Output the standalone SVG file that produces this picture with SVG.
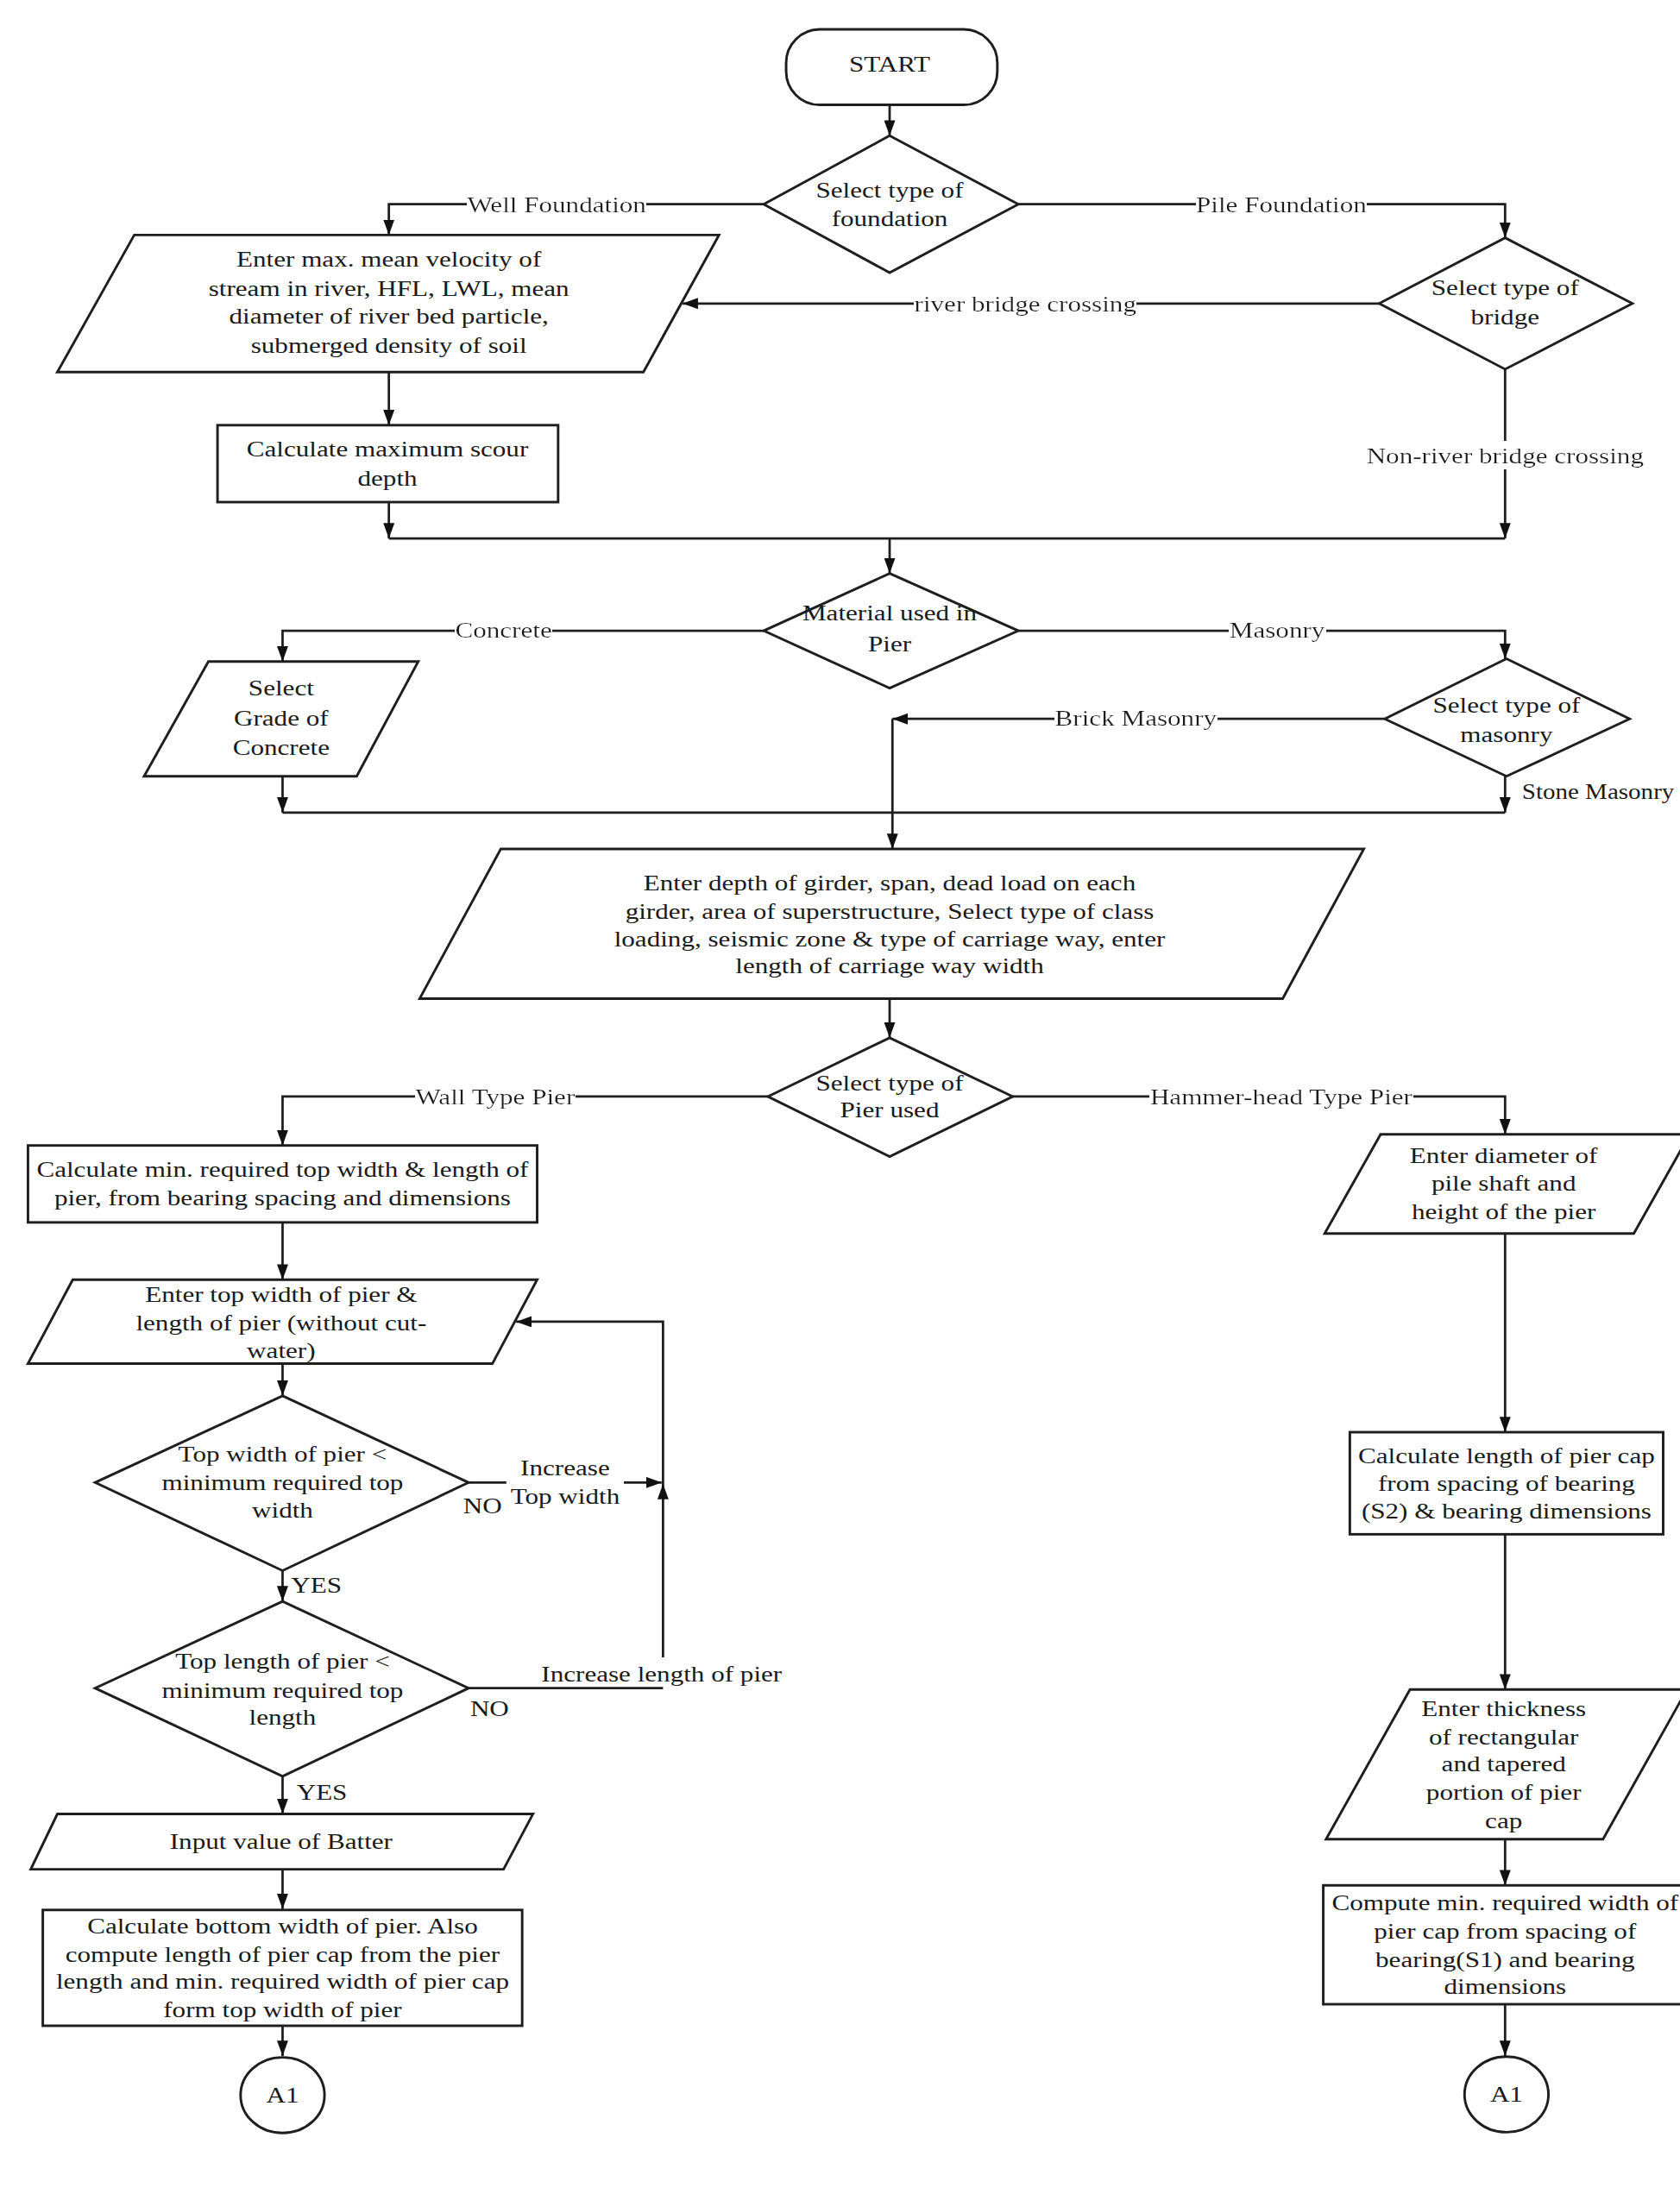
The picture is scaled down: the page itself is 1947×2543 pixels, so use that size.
<svg xmlns="http://www.w3.org/2000/svg" width="1947" height="2543" viewBox="0 0 1947 2543">
<style>
.n{fill:#fff;stroke:#1e1e1e;stroke-width:1.8}
.c{fill:none;stroke:#1e1e1e;stroke-width:1.7}
text{font-family:"Liberation Serif","Times New Roman",serif;font-size:16px;fill:#1a1a1a;text-anchor:middle}
.l{filter:url(#bg)}
.s{text-anchor:start}
</style>
<defs>
<marker id="a" markerUnits="userSpaceOnUse" markerWidth="11" markerHeight="8" viewBox="0 0 11 8" refX="11" refY="4" orient="auto"><path d="M0,0 L11,4 L0,8 z" fill="#111"/></marker>
<filter id="bg" x="0" y="-0.05" width="1" height="1.1"><feFlood flood-color="#fff" result="f"/><feMerge><feMergeNode in="f"/><feMergeNode in="SourceGraphic"/></feMerge></filter>
</defs>
<rect width="1947" height="2543" fill="#fff"/>
<g transform="scale(1.6211)">
<g id="connectors">
<path class="c" d="M636,75 L636,97" marker-end="url(#a)"/>
<path class="c" d="M546,146 L278,146 L278,168" marker-end="url(#a)"/>
<path class="c" d="M728,146 L1076,146 L1076,170" marker-end="url(#a)"/>
<path class="c" d="M986,217 L488,217" marker-end="url(#a)"/>
<path class="c" d="M1076,264 L1076,385" marker-end="url(#a)"/>
<path class="c" d="M278,266 L278,304" marker-end="url(#a)"/>
<path class="c" d="M278,359 L278,385" marker-end="url(#a)"/>
<path class="c" d="M278,385 L1076,385"/>
<path class="c" d="M636,385 L636,410" marker-end="url(#a)"/>
<path class="c" d="M546,451 L202,451 L202,473" marker-end="url(#a)"/>
<path class="c" d="M728,451 L1076,451 L1076,471" marker-end="url(#a)"/>
<path class="c" d="M990,514 L638,514" marker-end="url(#a)"/>
<path class="c" d="M638,514 L638,607" marker-end="url(#a)"/>
<path class="c" d="M1076,555 L1076,581" marker-end="url(#a)"/>
<path class="c" d="M202,555 L202,581" marker-end="url(#a)"/>
<path class="c" d="M202,581 L1076,581"/>
<path class="c" d="M636,714 L636,742" marker-end="url(#a)"/>
<path class="c" d="M549,784 L202,784 L202,819" marker-end="url(#a)"/>
<path class="c" d="M724,784 L1076,784 L1076,811" marker-end="url(#a)"/>
<path class="c" d="M202,874 L202,915" marker-end="url(#a)"/>
<path class="c" d="M202,975 L202,998" marker-end="url(#a)"/>
<path class="c" d="M335,1060 L362,1060"/>
<path class="c" d="M446,1060 L473,1060" marker-end="url(#a)"/>
<path class="c" d="M474,1185 L474,1061" marker-end="url(#a)"/>
<path class="c" d="M474,1061 L474,945 L369,945" marker-end="url(#a)"/>
<path class="c" d="M202,1123 L202,1145" marker-end="url(#a)"/>
<path class="c" d="M335,1207 L474,1207"/>
<path class="c" d="M202,1270 L202,1297" marker-end="url(#a)"/>
<path class="c" d="M202,1336 L202,1365" marker-end="url(#a)"/>
<path class="c" d="M202,1448 L202,1470" marker-end="url(#a)"/>
<path class="c" d="M1076,882 L1076,1024" marker-end="url(#a)"/>
<path class="c" d="M1076,1097 L1076,1208" marker-end="url(#a)"/>
<path class="c" d="M1076,1315 L1076,1348" marker-end="url(#a)"/>
<path class="c" d="M1076,1433 L1076,1470" marker-end="url(#a)"/>
<g transform="matrix(1.2,0,0,1,-79.6,0)"><text class="l" x="398" y="151.5">Well Foundation</text></g>
<g transform="matrix(1.2,0,0,1,-183.2,0)"><text class="l" x="916" y="151.5">Pile Foundation</text></g>
<g transform="matrix(1.2,0,0,1,-146.6,0)"><text class="l" x="733" y="222.5">river bridge crossing</text></g>
<g transform="matrix(1.2,0,0,1,-215.2,0)"><text class="l" x="1076" y="331">Non-river bridge crossing</text></g>
<g transform="matrix(1.2,0,0,1,-72,0)"><text class="l" x="360" y="456">Concrete</text></g>
<g transform="matrix(1.2,0,0,1,-182.6,0)"><text class="l" x="913" y="456">Masonry</text></g>
<g transform="matrix(1.2,0,0,1,-162.4,0)"><text class="l" x="812" y="519">Brick Masonry</text></g>
<g transform="matrix(1.12,0,0,1,-130.56,0)"><text class="s" x="1088" y="571.5">Stone Masonry</text></g>
<g transform="matrix(1.2,0,0,1,-70.8,0)"><text class="l" x="354" y="789.5">Wall Type Pier</text></g>
<g transform="matrix(1.2,0,0,1,-183.2,0)"><text class="l" x="916" y="789.5">Hammer-head Type Pier</text></g>
<g transform="matrix(1.2,0,0,1,-80.8,0)"><text x="404" y="1055">Increase</text><text x="404" y="1075">Top width</text></g>
<g transform="matrix(1.2,0,0,1,-69,0)"><text x="345" y="1082">NO</text></g>
<g transform="matrix(1.2,0,0,1,-41.6,0)"><text class="s" x="208" y="1138.5">YES</text></g>
<g transform="matrix(1.2,0,0,1,-94.6,0)"><text x="473" y="1202">Increase length of pier</text></g>
<g transform="matrix(1.2,0,0,1,-70,0)"><text x="350" y="1227">NO</text></g>
<g transform="matrix(1.2,0,0,1,-42.4,0)"><text class="s" x="212" y="1287">YES</text></g>
</g>
<g id="start"><rect class="n" x="562" y="21" width="151" height="54" rx="24"/><g transform="matrix(1.2,0,0,1,-127.2,0)"><text x="636" y="51.5">START</text></g></g>
<g id="d-foundation"><polygon class="n" points="636,97 728,146 636,195 546,146"/><g transform="matrix(1.2,0,0,1,-127.2,0)"><text x="636" y="141">Select type of</text><text x="636" y="161.5">foundation</text></g></g>
<g id="p-river-data"><polygon class="n" points="96,168 514,168 460,266 41,266"/><g transform="matrix(1.2,0,0,1,-55.6,0)"><text x="278" y="190.5">Enter max. mean velocity of</text><text x="278" y="211.5">stream in river, HFL, LWL, mean</text><text x="278" y="231.5">diameter of river bed particle,</text><text x="278" y="252.5">submerged density of soil</text></g></g>
<g id="d-bridge"><polygon class="n" points="1076,170 1167,217 1076,264 986,217"/><g transform="matrix(1.2,0,0,1,-215.2,0)"><text x="1076" y="211">Select type of</text><text x="1076" y="232">bridge</text></g></g>
<g id="r-scour"><rect class="n" x="155.5" y="304" width="243.5" height="55"/><g transform="matrix(1.2,0,0,1,-55.4,0)"><text x="277" y="326.5">Calculate maximum scour</text><text x="277" y="347">depth</text></g></g>
<g id="d-material"><polygon class="n" points="636,410 728,451 636,492 546,451"/><g transform="matrix(1.2,0,0,1,-127.2,0)"><text x="636" y="443.5">Material used in</text><text x="636" y="465.5">Pier</text></g></g>
<g id="p-grade"><polygon class="n" points="149,473 299,473 255,555 103,555"/><g transform="matrix(1.2,0,0,1,-40.2,0)"><text x="201" y="497.5">Select</text><text x="201" y="518.5">Grade of</text><text x="201" y="539.5">Concrete</text></g></g>
<g id="d-masonry"><polygon class="n" points="1077,471 1165,514 1077,555 990,514"/><g transform="matrix(1.2,0,0,1,-215.4,0)"><text x="1077" y="509.5">Select type of</text><text x="1077" y="530.5">masonry</text></g></g>
<g id="p-girder"><polygon class="n" points="358,607 975,607 917,714 300,714"/><g transform="matrix(1.2,0,0,1,-127.2,0)"><text x="636" y="636.5">Enter depth of girder, span, dead load on each</text><text x="636" y="657">girder, area of superstructure, Select type of class</text><text x="636" y="677">loading, seismic zone &amp; type of carriage way, enter</text><text x="636" y="696">length of carriage way width</text></g></g>
<g id="d-pier"><polygon class="n" points="636,742 724,784 636,827 549,784"/><g transform="matrix(1.2,0,0,1,-127.2,0)"><text x="636" y="779.5">Select type of</text><text x="636" y="799">Pier used</text></g></g>
<g id="r-min-top"><rect class="n" x="20" y="819" width="364" height="55"/><g transform="matrix(1.2,0,0,1,-40.4,0)"><text x="202" y="841.5">Calculate min. required top width &amp; length of</text><text x="202" y="862">pier, from bearing spacing and dimensions</text></g></g>
<g id="p-top-width"><polygon class="n" points="52,915 384,915 352,975 20,975"/><g transform="matrix(1.2,0,0,1,-40.2,0)"><text x="201" y="931">Enter top width of pier &amp;</text><text x="201" y="951.5">length of pier (without cut-</text><text x="201" y="971">water)</text></g></g>
<g id="d-width"><polygon class="n" points="202,998 335,1060 202,1123 68,1060"/><g transform="matrix(1.2,0,0,1,-40.4,0)"><text x="202" y="1045">Top width of pier &lt;</text><text x="202" y="1065.5">minimum required top</text><text x="202" y="1085">width</text></g></g>
<g id="d-length"><polygon class="n" points="202,1145 335,1207 202,1270 68,1207"/><g transform="matrix(1.2,0,0,1,-40.4,0)"><text x="202" y="1193">Top length of pier &lt;</text><text x="202" y="1214">minimum required top</text><text x="202" y="1233">length</text></g></g>
<g id="p-batter"><polygon class="n" points="41,1297 381,1297 360,1336.5 22,1336.5"/><g transform="matrix(1.2,0,0,1,-40.2,0)"><text x="201" y="1322">Input value of Batter</text></g></g>
<g id="r-bottom"><rect class="n" x="30.6" y="1365.6" width="342.7" height="82.8"/><g transform="matrix(1.2,0,0,1,-40.4,0)"><text x="202" y="1382.5">Calculate bottom width of pier. Also</text><text x="202" y="1403">compute length of pier cap from the pier</text><text x="202" y="1422">length and min. required width of pier cap</text><text x="202" y="1442">form top width of pier</text></g></g>
<g id="a1-left"><ellipse class="n" cx="202" cy="1498" rx="30" ry="27"/><g transform="matrix(1.2,0,0,1,-40.4,0)"><text x="202" y="1503">A1</text></g></g>
<g id="p-shaft"><polygon class="n" points="987,811 1208,811 1168,882 947,882"/><g transform="matrix(1.2,0,0,1,-215,0)"><text x="1075" y="831.5">Enter diameter of</text><text x="1075" y="851.5">pile shaft and</text><text x="1075" y="871.5">height of the pier</text></g></g>
<g id="r-cap-length"><rect class="n" x="965" y="1024" width="224" height="73"/><g transform="matrix(1.2,0,0,1,-215.4,0)"><text x="1077" y="1046">Calculate length of pier cap</text><text x="1077" y="1066">from spacing of bearing</text><text x="1077" y="1085.5">(S2) &amp; bearing dimensions</text></g></g>
<g id="p-thickness"><polygon class="n" points="1008,1208 1206,1208 1146,1315 948,1315"/><g transform="matrix(1.2,0,0,1,-215,0)"><text x="1075" y="1227">Enter thickness</text><text x="1075" y="1247">of rectangular</text><text x="1075" y="1266.5">and tapered</text><text x="1075" y="1287">portion of pier</text><text x="1075" y="1307">cap</text></g></g>
<g id="r-cap-width"><rect class="n" x="946" y="1348" width="258" height="85"/><g transform="matrix(1.2,0,0,1,-215.2,0)"><text x="1076" y="1366">Compute min. required width of</text><text x="1076" y="1386">pier cap from spacing of</text><text x="1076" y="1406.5">bearing(S1) and bearing</text><text x="1076" y="1425.5">dimensions</text></g></g>
<g id="a1-right"><ellipse class="n" cx="1077" cy="1497.5" rx="30" ry="27"/><g transform="matrix(1.2,0,0,1,-215.4,0)"><text x="1077" y="1502.5">A1</text></g></g>
</g>
</svg>
